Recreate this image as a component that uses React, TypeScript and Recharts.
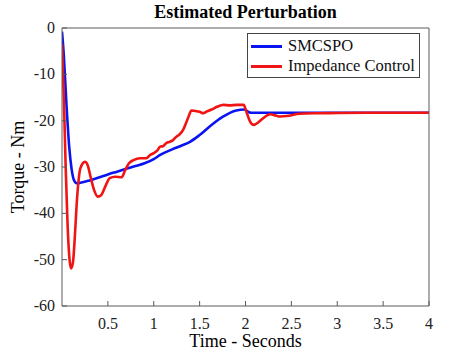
import React from "react";
import { LineChart, Line, XAxis, YAxis } from "recharts";

// Estimated perturbation torque
const smcspoTime = [0, 0.02, 0.05, 0.08, 0.105, 0.13, 0.16, 0.2, 0.3, 0.41, 0.5, 0.6, 0.7, 0.8, 0.9, 1.0, 1.07, 1.2, 1.3, 1.4, 1.5, 1.65, 1.75, 1.9, 1.99, 2.03, 2.06, 2.5, 3, 3.5, 4];
const smcspoTorque = [-0.8, -6, -17, -26, -30.5, -32.8, -33.5, -33.4, -32.9, -32.2, -31.6, -31.0, -30.4, -29.8, -29.2, -28.3, -27.4, -26.2, -25.4, -24.5, -23.1, -20.6, -19.2, -17.8, -17.6, -18.1, -18.3, -18.3, -18.3, -18.3, -18.3];

const impedanceTime = [0, 0.02, 0.04, 0.06, 0.08, 0.098, 0.12, 0.14, 0.16, 0.18, 0.2, 0.25, 0.28, 0.31, 0.35, 0.39, 0.43, 0.47, 0.52, 0.58, 0.65, 0.69, 0.73, 0.78, 0.85, 0.92, 0.96, 1.0, 1.04, 1.07, 1.1, 1.14, 1.17, 1.21, 1.25, 1.28, 1.32, 1.35, 1.38, 1.41, 1.45, 1.5, 1.54, 1.58, 1.63, 1.69, 1.76, 1.83, 1.9, 1.98, 2.01, 2.05, 2.09, 2.13, 2.19, 2.27, 2.33, 2.38, 2.45, 2.59, 2.8, 3, 3.5, 4];
const impedanceTorque = [-3.5, -15, -30, -42, -49.5, -51.9, -50.5, -45, -38, -33, -30.3, -28.9, -29.6, -32, -35, -36.4, -36, -34.3, -32.4, -32.1, -32.2, -30.6, -29.2, -28.5, -28.1, -28.1, -27.4, -27.0, -26.4, -25.6, -25.5, -24.8, -24.6, -24.2, -23.4, -23.0, -22.0, -20.6, -19.1, -17.8, -17.9, -18.1, -18.4, -18.0, -17.6, -17.0, -16.6, -16.7, -16.6, -16.6, -18.1, -20.2, -20.9, -20.5, -19.5, -18.6, -18.9, -19.1, -19.0, -18.5, -18.4, -18.35, -18.3, -18.3];

const xTicks = [0.5, 1, 1.5, 2, 2.5, 3, 3.5, 4];
const yTicks = [0, -10, -20, -30, -40, -50, -60];

const smcspoData = smcspoTime.map((t, i) => ({ t, v: smcspoTorque[i] }));
const impedanceData = impedanceTime.map((t, i) => ({ t, v: impedanceTorque[i] }));

const FONT = "Liberation Serif, Times New Roman, serif";
const AXIS = "#5a5a5a";
const BLUE = "#0a14f0";
const RED = "#f01414";

function BottomTick({ x, y, payload }: any) {
  return (
    <g>
      <line x1={x} x2={x} y1={y} y2={y - 5} stroke={AXIS} />
      <text
        x={x}
        y={y + 23}
        textAnchor="middle"
        fill="#222"
        fontFamily={FONT}
        fontSize={16}
        style={{ fontFamily: FONT, fontSize: 16 }}
      >
        {payload.value}
      </text>
    </g>
  );
}

function TopTick({ x, y }: any) {
  return <line x1={x} x2={x} y1={y} y2={y + 5} stroke={AXIS} />;
}

function LeftTick({ x, y, payload }: any) {
  return (
    <g>
      <line x1={x} x2={x + 5} y1={y} y2={y} stroke={AXIS} />
      <text
        x={x - 7}
        y={y + 5}
        textAnchor="end"
        fill="#222"
        fontFamily={FONT}
        fontSize={16}
        style={{ fontFamily: FONT, fontSize: 16 }}
      >
        {payload.value}
      </text>
    </g>
  );
}

function RightTick({ x, y }: any) {
  return <line x1={x} x2={x - 5} y1={y} y2={y} stroke={AXIS} />;
}

function LegendBox() {
  const row = (color: string, label: string) => (
    <div style={{ display: "flex", alignItems: "center", height: 20 }}>
      <div style={{ width: 31, height: 3, background: color, marginRight: 6 }} />
      <span>{label}</span>
    </div>
  );
  return (
    <div
      style={{
        position: "absolute",
        left: 247,
        top: 33,
        border: "1px solid #444",
        background: "#fff",
        padding: "2px 4px 1px 3px",
        fontFamily: FONT,
        fontSize: 16.5,
        color: "#111",
        lineHeight: "20px",
        width: 164,
      }}
    >
      {row(BLUE, "SMCSPO")}
      {row(RED, "Impedance Control")}
    </div>
  );
}

export default function App() {
  return (
    <div
      style={{
        position: "absolute",
        left: 0,
        top: 0,
        width: 474,
        height: 355,
        background: "#fff",
        fontFamily: FONT,
      }}
    >
      <LineChart
        width={474}
        height={355}
        margin={{ top: 27, right: 44, bottom: 48, left: 0 }}
        style={{ position: "absolute", left: 0, top: 0, fontFamily: FONT }}
      >
        <XAxis
          xAxisId="bottom"
          dataKey="t"
          type="number"
          domain={[0, 4]}
          ticks={xTicks}
          allowDataOverflow
          orientation="bottom"
          height={1}
          tickSize={0}
          tickMargin={0}
          tickLine={false}
          tick={<BottomTick />}
          axisLine={{ stroke: AXIS }}
          interval={0}
        />
        <XAxis
          xAxisId="top"
          dataKey="t"
          type="number"
          domain={[0, 4]}
          ticks={xTicks}
          orientation="top"
          height={1}
          tickSize={0}
          tickMargin={0}
          tickLine={false}
          tick={<TopTick />}
          axisLine={{ stroke: AXIS }}
          interval={0}
        />
        <YAxis
          yAxisId="left"
          type="number"
          domain={[-60, 0]}
          ticks={yTicks}
          width={62}
          tickSize={0}
          tickMargin={0}
          tickLine={false}
          tick={<LeftTick />}
          axisLine={{ stroke: AXIS }}
          interval={0}
        />
        <YAxis
          yAxisId="right"
          orientation="right"
          type="number"
          domain={[-60, 0]}
          ticks={yTicks}
          width={1}
          tickSize={0}
          tickMargin={0}
          tickLine={false}
          tick={<RightTick />}
          axisLine={{ stroke: AXIS }}
          interval={0}
        />
        <Line
          xAxisId="bottom"
          yAxisId="left"
          data={smcspoData}
          dataKey="v"
          type="monotone"
          stroke={BLUE}
          strokeWidth={2.6}
          dot={false}
          isAnimationActive={false}
          name="SMCSPO"
        />
        <Line
          xAxisId="bottom"
          yAxisId="left"
          data={impedanceData}
          dataKey="v"
          type="monotone"
          stroke={RED}
          strokeWidth={2.6}
          dot={false}
          isAnimationActive={false}
          name="Impedance Control"
        />
      </LineChart>
      <div
        style={{
          position: "absolute",
          top: 2,
          left: 62,
          width: 367,
          textAlign: "center",
          fontWeight: "bold",
          fontSize: 18,
        }}
      >
        Estimated Perturbation
      </div>
      <div
        style={{
          position: "absolute",
          top: 331,
          left: 62,
          width: 367,
          textAlign: "center",
          fontSize: 18,
        }}
      >
        Time - Seconds
      </div>
      <div
        style={{
          position: "absolute",
          left: 18,
          top: 167,
          transform: "translate(-50%, -50%) rotate(-90deg)",
          fontSize: 18,
          whiteSpace: "nowrap",
        }}
      >
        Torque - Nm
      </div>
      <LegendBox />
    </div>
  );
}
